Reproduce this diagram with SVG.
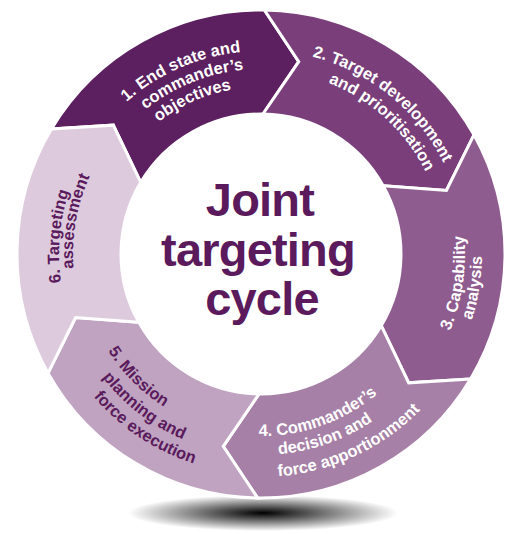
<svg xmlns="http://www.w3.org/2000/svg" width="525" height="534" viewBox="0 0 525 534">
<defs>
<radialGradient id="shadow" cx="0.5" cy="0.5" r="0.5">
<stop offset="0" stop-color="#000" stop-opacity="1"/>
<stop offset="0.45" stop-color="#000" stop-opacity="0.55"/>
<stop offset="1" stop-color="#000" stop-opacity="0"/>
</radialGradient>
<path id="p1a" d="M71.99,179.93 A203,203 0 0 1 335.07,64.99"/>
<path id="p1b" d="M90.71,181.71 A185,185 0 0 1 333.29,83.71"/>
<path id="p1c" d="M105.09,194.15 A167,167 0 0 1 320.85,98.09"/>
<path id="p2a" d="M239.68,51.12 A204,204 0 0 1 463.88,232.68"/>
<path id="p2b" d="M252.97,70.17 A184,184 0 0 1 444.83,245.97"/>
<path id="p3a" d="M382.34,417.99 A204,204 0 0 0 424.99,132.66"/>
<path id="p3b" d="M390.90,432.79 A221,221 0 0 0 439.79,124.10"/>
<path id="p4a" d="M182.65,418.27 A182,182 0 0 0 425.27,332.35"/>
<path id="p4b" d="M174.15,435.27 A201,201 0 0 0 442.27,340.85"/>
<path id="p4c" d="M184.73,463.55 A223,223 0 0 0 470.55,330.27"/>
<path id="p5a" d="M80,254 A181,181 0 0 0 261,435"/>
<path id="p5b" d="M61.72,280.24 A201,201 0 0 0 287.24,453.28"/>
<path id="p5c" d="M45.27,297.11 A220,220 0 0 0 304.11,469.73"/>
<path id="p6a" d="M106.26,383.84 A202,202 0 0 1 131.16,99.26"/>
<path id="p6b" d="M107.0,361.83 A188,188 0 0 1 153.17,100.0"/>
</defs>
<style>
.seg{stroke:#fff;stroke-width:3;stroke-linejoin:miter}
.lbl{font-family:"Liberation Sans",Arial,sans-serif;font-weight:bold;font-size:16.5px;text-anchor:middle}
.w{fill:#fff}
.d{fill:#5a1a5c}
.title{font-family:"Liberation Sans",Arial,sans-serif;font-weight:bold;font-size:47px;fill:#5a1a5c;text-anchor:middle;letter-spacing:-0.8px}
</style>
<rect width="525" height="534" fill="#fff"/>
<ellipse cx="263" cy="513" rx="135" ry="18" fill="url(#shadow)"/>
<g id="seg1">
<path class="seg" fill="#5c1f5f" d="M51.41,129.05 A244,244 0 0 1 264.41,10.02 L298.73,61.67 L262.95,114.01 A140,140 0 0 0 140.75,182.31 L113.30,125.15 Z"/>
<text class="lbl w"><textPath href="#p1a" startOffset="50%">1. End state and</textPath></text>
<text class="lbl w"><textPath href="#p1b" startOffset="50%">commander’s</textPath></text>
<text class="lbl w"><textPath href="#p1c" startOffset="50%">objectives</textPath></text>
</g>
<g id="seg2">
<path class="seg" fill="#7a3f7b" d="M264.41,10.02 A244,244 0 0 1 473.95,134.88 L446.43,190.51 L383.18,185.65 A140,140 0 0 0 262.95,114.01 L298.73,61.67 Z"/>
<text class="lbl w"><textPath href="#p2a" startOffset="50%">2. Target development</textPath></text>
<text class="lbl w"><textPath href="#p2b" startOffset="50%">and prioritisation</textPath></text>
</g>
<g id="seg3">
<path class="seg" fill="#8e5c8e" d="M473.95,134.88 A244,244 0 0 1 470.59,378.95 L408.70,382.85 L381.25,325.69 A140,140 0 0 0 383.18,185.65 L446.43,190.51 Z"/>
<text class="lbl w"><textPath href="#p3a" startOffset="50%">3. Capability</textPath></text>
<text class="lbl w"><textPath href="#p3b" startOffset="50%">analysis</textPath></text>
</g>
<g id="seg4">
<path class="seg" fill="#a680a6" d="M470.59,378.95 A244,244 0 0 1 257.59,497.98 L223.27,446.33 L259.05,393.99 A140,140 0 0 0 381.25,325.69 L408.70,382.85 Z"/>
<text class="lbl w"><textPath href="#p4a" startOffset="50%">4. Commander’s</textPath></text>
<text class="lbl w"><textPath href="#p4b" startOffset="50%">decision and</textPath></text>
<text class="lbl w"><textPath href="#p4c" startOffset="50%">force apportionment</textPath></text>
</g>
<g id="seg5">
<path class="seg" fill="#bfa3c0" d="M257.59,497.98 A244,244 0 0 1 48.05,373.12 L75.57,317.49 L138.82,322.35 A140,140 0 0 0 259.05,393.99 L223.27,446.33 Z"/>
<text class="lbl d"><textPath href="#p5a" startOffset="50%">5. Mission</textPath></text>
<text class="lbl d"><textPath href="#p5b" startOffset="50%">planning and</textPath></text>
<text class="lbl d"><textPath href="#p5c" startOffset="50%">force execution</textPath></text>
</g>
<g id="seg6">
<path class="seg" fill="#ddcbdd" d="M48.05,373.12 A244,244 0 0 1 51.41,129.05 L113.30,125.15 L140.75,182.31 A140,140 0 0 0 138.82,322.35 L75.57,317.49 Z"/>
<text class="lbl d"><textPath href="#p6a" startOffset="50%">6. Targeting</textPath></text>
<text class="lbl d"><textPath href="#p6b" startOffset="50%">assessment</textPath></text>
</g>
<g id="center">
<text class="title" x="260" y="216">Joint</text>
<text class="title" x="258" y="266">targeting</text>
<text class="title" x="262" y="315">cycle</text>
</g>
</svg>
